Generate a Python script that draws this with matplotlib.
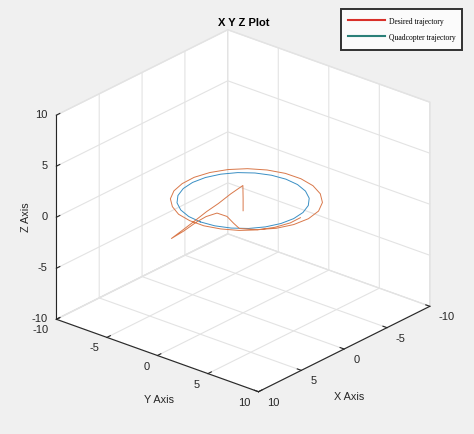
import numpy as np
import matplotlib
matplotlib.use('Agg')
import matplotlib.pyplot as plt
from matplotlib.lines import Line2D
from mpl_toolkits.mplot3d import proj3d

# desired trajectory: circle of radius 5 at z = 1
des_x = [5.0, 4.83, 4.33, 3.54, 2.5, 1.29, 0.0, -1.29, -2.5, -3.54, -4.33, -4.83,
         -5.0, -4.83, -4.33, -3.54, -2.5, -1.29, 0.0, 1.29, 2.5, 3.54, 4.33, 4.83, 5.0]
des_y = [0.0, 1.29, 2.5, 3.54, 4.33, 4.83, 5.0, 4.83, 4.33, 3.54, 2.5, 1.29,
         0.0, -1.29, -2.5, -3.54, -4.33, -4.83, -5.0, -4.83, -4.33, -3.54, -2.5, -1.29, 0.0]
des_z = [1.0] * len(des_x)

# quadcopter trajectory: take-off, overshoot, then spiral around the circle
quad_x = [0.0, 0.0, 0.05, 1.5, 3.0, 4.4, 5.8, 7.3, 8.6, 7.0, 5.2, 4.2, 3.4, 3.3, 3.7, 3.99,
          3.26, 2.17, 0.80, -0.72, -2.25, -3.61, -4.69, -5.43, -5.79, -5.76, -5.33, -4.55,
          -3.48, -2.19, -0.77, 0.67, 2.06, 3.31, 4.29, 5.02, 5.35, 5.36, 4.96, 4.27, 3.30,
          2.09, 0.74, -0.46]
quad_y = [0.0, 0.0, 0.02, 0.05, 0.1, 0.12, 0.15, 0.18, 0.2, 0.05, -0.2, -0.1, 0.3, 1.2, 2.2, 3.01,
          4.18, 5.11, 5.69, 5.86, 5.56, 4.79, 3.66, 2.31, 0.81, -0.71, -2.15, -3.43,
          -4.45, -5.15, -5.50, -5.46, -5.10, -4.39, -3.36, -2.13, -0.75, 0.66, 2.00, 3.22, 4.22,
          4.92, 5.30, 5.28]
quad_z = [0.0, 1.2, 2.5, 2.3, 2.0, 1.8, 1.5, 1.2, 0.95, 0.95, 1.0, 1.15, 1.3, 1.25, 1.1, 1.0,
          1.0, 1.0, 1.0, 1.0, 1.0, 1.0, 1.0, 1.0, 1.0, 1.0, 1.0, 1.0,
          1.0, 1.0, 1.0, 1.0, 1.0, 1.0, 1.0, 1.0, 1.0, 1.0, 1.0, 1.0, 1.0,
          1.0, 1.0, 1.0]

ticks = [-10, -5, 0, 5, 10]
tick_labels = ['-10', '-5', '0', '5', '10']

plt.rcParams['font.family'] = ['Liberation Sans', 'DejaVu Sans']
plt.rcParams['axes.unicode_minus'] = False

fig = plt.figure(figsize=(4.74, 4.34), dpi=100)
fig.patch.set_facecolor('#f0f0f0')
ax = fig.add_axes([0.0215, 0.042, 0.96, 0.92], projection='3d')
ax.set_facecolor('#f0f0f0')
ax.set_proj_type('ortho')
ax.view_init(elev=25, azim=40.3)
ax.set_box_aspect((1, 1, 0.85), zoom=1.063)

ax.plot(des_x, des_y, des_z, color='#3a8fc4', lw=0.7)
ax.plot(quad_x, quad_y, quad_z, color='#d9784a', lw=0.7)

ax.set_xlim(-10, 10)
ax.set_ylim(-10, 10)
ax.set_zlim(-10, 10)
ax.set_xticks(ticks, labels=[''] * len(ticks))
ax.set_yticks(ticks, labels=[''] * len(ticks))
ax.set_zticks(ticks, labels=[''] * len(ticks))
for axis in (ax.xaxis, ax.yaxis, ax.zaxis):
    axis.set_pane_color((1, 1, 1, 1))
    axis.pane.set_edgecolor('#e3e3e3')
    axis._axinfo['grid'].update(color='#e3e3e3', linewidth=0.8)
    axis._axinfo['tick'].update(inward_factor=0.0, outward_factor=0.25)
    axis._axinfo['axisline'].update(color='#262626', linewidth=0.8)
    axis.line.set_color('#262626')
    axis.line.set_linewidth(0.8)
ax.tick_params(colors='#262626')

# MATLAB style labels: placed next to the box edges, offsets in pixels
fig.canvas.draw()
M = ax.get_proj()


def put(txt, x, y, z, dx, dy, **kw):
    px, py, _ = proj3d.proj_transform(x, y, z, M)
    ax.annotate(txt, (px, py), xycoords='data', xytext=(dx, -dy),
                textcoords='offset pixels', color='#262626', **kw)


for v, s in zip(ticks, tick_labels):
    put(s, 10, -10, v, -9, 0, ha='right', va='center', fontsize=8)
    put(s, 10, v, -10, -8, 11, ha='right', va='center', fontsize=8)
    put(s, v, 10, -10, 9, 11, ha='left', va='center', fontsize=8)
put('Y Axis', 10, 0, -10, 2, 44, ha='center', va='center', fontsize=7.8)
put('X Axis', 0, 10, -10, 5, 48, ha='center', va='center', fontsize=7.8)
put('Z Axis', 10, -10, 0, -30, 0, ha='center', va='center', fontsize=7.8, rotation=90)

fig.text(0.515, 0.948, 'X Y Z Plot', ha='center', va='center', fontsize=8, fontweight='bold')

handles = [Line2D([], [], color='#d9302a', lw=1.5), Line2D([], [], color='#2a7f78', lw=1.5)]
leg = fig.legend(handles, ['Desired trajectory', 'Quadcopter trajectory'],
                 loc='upper right', bbox_to_anchor=(0.982, 0.9876), frameon=True, fancybox=False,
                 prop={'family': ['Liberation Serif', 'DejaVu Serif'], 'size': 5.5},
                 handlelength=4.9, handleheight=2.12, labelspacing=0.51,
                 borderpad=0.8, handletextpad=0.5)
leg.get_frame().set_edgecolor('black')
leg.get_frame().set_linewidth(1.4)

fig.savefig('out.png', dpi=100, facecolor=fig.get_facecolor())
